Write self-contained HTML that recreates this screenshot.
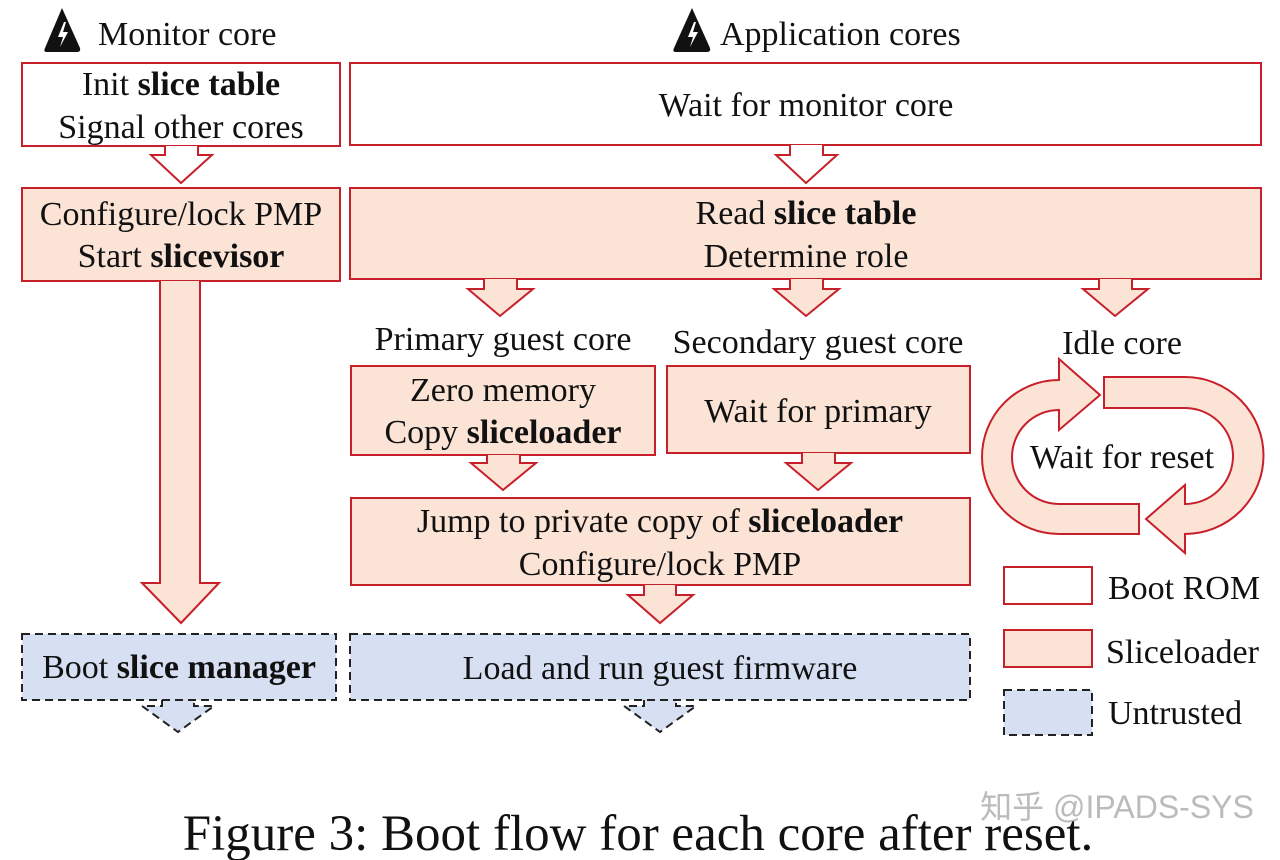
<!DOCTYPE html>
<html><head><meta charset="utf-8"><style>
html,body{margin:0;padding:0;background:#fff;width:1280px;height:860px;overflow:hidden}
svg text{font-family:"Liberation Serif",serif;fill:#111}
</style></head><body>
<svg width="1280" height="860" viewBox="0 0 1280 860" xmlns="http://www.w3.org/2000/svg">
<g stroke="#c8202a" stroke-width="2">
<rect x="22" y="63" width="318" height="83" fill="#fff"/>
<rect x="350" y="63" width="911" height="82" fill="#fff"/>
<rect x="22" y="188" width="318" height="93" fill="#fbe3d6"/>
<rect x="350" y="188" width="911" height="91" fill="#fbe3d6"/>
<path d="M165,146 V155 H151 L181,183 L212,155 H198 V146" fill="#fff"/>
<path d="M790,145 V155 H776 L806,183 L837,155 H823 V145" fill="#fff"/>
<path d="M484,279 V289 H468 L500,316 L533,289 H517 V279" fill="#fbe3d6"/>
<path d="M790,279 V289 H774 L806,316 L839,289 H823 V279" fill="#fbe3d6"/>
<path d="M1099,279 V289 H1083 L1115,316 L1148,289 H1132 V279" fill="#fbe3d6"/>
<path d="M160,281 V583 H142 L181,623 L219,583 H200 V281" fill="#fbe3d6"/>
<rect x="351" y="366" width="304" height="89" fill="#fbe3d6"/>
<rect x="667" y="366" width="303" height="87" fill="#fbe3d6"/>
<path d="M487,455 V463 H471 L503,490 L536,463 H520 V455" fill="#fbe3d6"/>
<path d="M802,453 V463 H786 L818,490 L851,463 H835 V453" fill="#fbe3d6"/>
<rect x="351" y="498" width="619" height="87" fill="#fbe3d6"/>
<path d="M644,585 V595 H628 L660,623 L693,595 H676 V585" fill="#fbe3d6"/>
<path d="M1139,534 H1059 A77,77 0 0 1 1059,380 V359 L1100,395 L1059,430 V410 A47,47 0 0 0 1059,504 H1139 Z" fill="#fbe3d6"/>
<path d="M1104,377 H1185 A78.5,78.5 0 0 1 1185,534 V553 L1146,519 L1185,485 V504 A48,48 0 0 0 1185,408 H1104 Z" fill="#fbe3d6"/>
<rect x="1004" y="567" width="88" height="37" fill="#fff"/>
<rect x="1004" y="630" width="88" height="37" fill="#fbe3d6"/>
</g>
<g stroke="#222" stroke-width="2" stroke-dasharray="8,5" fill="#d6e0f2">
<path d="M162,700 V706 H142 L178,732 L214,706 H194 V700"/>
<path d="M644,700 V706 H624 L660,732 L696,706 H676 V700"/>
<rect x="22" y="634" width="314" height="66"/>
<rect x="350" y="634" width="620" height="66"/>
<rect x="1004" y="690" width="88" height="45"/>
</g>
<path d="M62,8 L80,48 Q81,52 77,52 L47,52 Q43,52 45,48 Z" fill="#111"/>
<path d="M64,22 L58,37 L63,37 L60,47 L68,32 L63,32 L66,22 Z" fill="#fff"/>
<path d="M692,8 L710,48 Q711,52 707,52 L676,52 Q672,52 674,48 Z" fill="#111"/>
<path d="M694,22 L688,37 L693,37 L690,47 L698,32 L693,32 L696,22 Z" fill="#fff"/>
<g font-size="34">
<text x="98" y="45">Monitor core</text>
<text x="720" y="45">Application cores</text>
<text x="181" y="95" text-anchor="middle">Init <tspan font-weight="bold">slice table</tspan></text>
<text x="181" y="138" text-anchor="middle">Signal other cores</text>
<text x="806" y="116" text-anchor="middle">Wait for monitor core</text>
<text x="181" y="225" text-anchor="middle">Configure/lock PMP</text>
<text x="181" y="267" text-anchor="middle">Start <tspan font-weight="bold">slicevisor</tspan></text>
<text x="806" y="224" text-anchor="middle">Read <tspan font-weight="bold">slice table</tspan></text>
<text x="806" y="267" text-anchor="middle">Determine role</text>
<text x="503" y="350" text-anchor="middle">Primary guest core</text>
<text x="818" y="353" text-anchor="middle">Secondary guest core</text>
<text x="1122" y="354" text-anchor="middle">Idle core</text>
<text x="503" y="401" text-anchor="middle">Zero memory</text>
<text x="503" y="443" text-anchor="middle">Copy <tspan font-weight="bold">sliceloader</tspan></text>
<text x="818" y="422" text-anchor="middle">Wait for primary</text>
<text x="1122" y="468" text-anchor="middle">Wait for reset</text>
<text x="660" y="532" text-anchor="middle">Jump to private copy of <tspan font-weight="bold">sliceloader</tspan></text>
<text x="660" y="575" text-anchor="middle">Configure/lock PMP</text>
<text x="179" y="678" text-anchor="middle">Boot <tspan font-weight="bold">slice manager</tspan></text>
<text x="660" y="679" text-anchor="middle">Load and run guest firmware</text>
<text x="1108" y="599">Boot ROM</text>
<text x="1106" y="663">Sliceloader</text>
<text x="1108" y="724">Untrusted</text>
</g>
<text x="1117" y="818" text-anchor="middle" font-size="32" style="font-family:'Liberation Sans','Noto Sans CJK SC',sans-serif;fill:#bbb">知乎 @IPADS-SYS</text>
<text x="638" y="850" text-anchor="middle" font-size="51">Figure 3: Boot flow for each core after reset.</text>
</svg>
</body></html>
